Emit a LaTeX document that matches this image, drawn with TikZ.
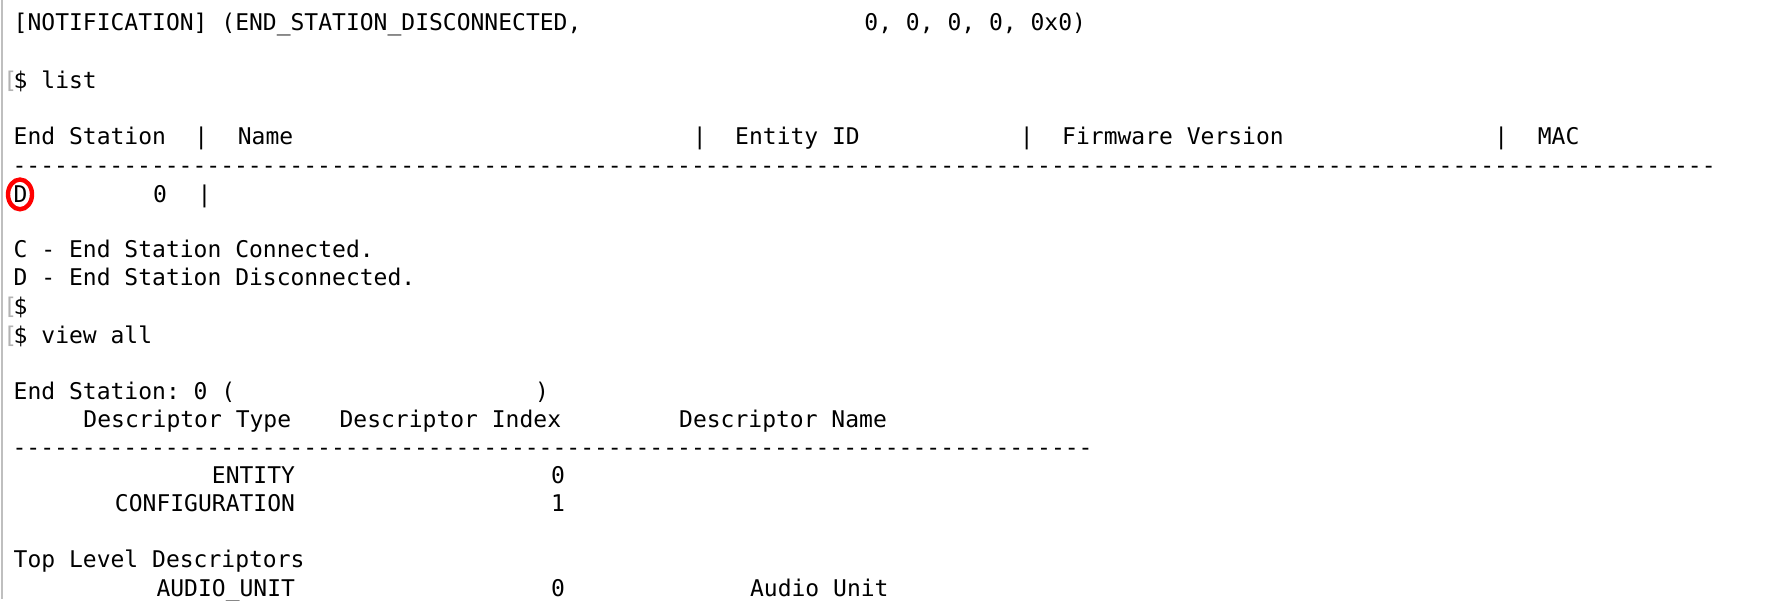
\documentclass[tikz,border=0pt]{standalone}
\usepackage{fontspec}
\setmonofont{DejaVu Sans Mono}
\begin{document}
\begin{tikzpicture}[x=0.5717pt,y=-0.5717pt,
  t/.style={inner sep=0pt,outer sep=0pt,anchor=base west,font=\ttfamily\fontsize{11.5}{14}\selectfont},
  tc/.style={t,anchor=base},
  tr/.style={t,anchor=base east},
  br/.style={t,text=gray!60}]
\useasboundingbox[fill=white] (0,0) rectangle (1548,524.76);
\draw[gray!50,line width=1.1pt] (2,0) -- (2,524);
\node[t] (top) at (12,-4) {\$};
\node[t] (n1) at (12,27) {[NOTIFICATION] (END\_STATION\_DISCONNECTED,};
\node[t] (n2) at (756,27) {0, 0, 0, 0, 0x0)};
\node[br] (b1) at (3,77) {[};
\node[t] (l1) at (12,77) {\$ list};
\node[t] (h1) at (12,126) {End Station};
\node[tc] (h2) at (176,126) {|};
\node[t] (h3) at (208,126) {Name};
\node[tc] (h4) at (612,126) {|};
\node[t] (h5) at (643,126) {Entity ID};
\node[tc] (h6) at (898,126) {|};
\node[t] (h7) at (929,126) {Firmware Version};
\node[tc] (h8) at (1313,126) {|};
\node[t] (h9) at (1345,126) {MAC};
\node[t] (d1) at (11,152) {\foreach \i in {1,...,123}{-}};
\node[t] (r1) at (12,177) {D};
\node[tc] (r2) at (140,177) {0};
\node[tc] (r3) at (179,177) {|};
\draw[red,line width=2.2pt] (17.5,170) ellipse (10.5 and 13);
\node[t] (c1) at (12,225) {C - End Station Connected.};
\node[t] (c2) at (12,250) {D - End Station Disconnected.};
\node[br] (b2) at (3,275) {[};
\node[t] (p1) at (12,275) {\$};
\node[br] (b3) at (3,300) {[};
\node[t] (p2) at (12,300) {\$ view all};
\node[t] (e1) at (12,349) {End Station: 0 (};
\node[t] (e2) at (468,349) {)};
\node[t] (g1) at (73,374) {Descriptor Type};
\node[t] (g2) at (297,374) {Descriptor Index};
\node[t] (g3) at (594,374) {Descriptor Name};
\node[t] (d2) at (11,398) {\foreach \i in {1,...,78}{-}};
\node[tr] (k1) at (258,423) {ENTITY};
\node[tc] (k2) at (488,423) {0};
\node[tr] (k3) at (258,447) {CONFIGURATION};
\node[tc] (k4) at (488,447) {1};
\node[t] (k5) at (12,496) {Top Level Descriptors};
\node[tr] (k6) at (258,522) {AUDIO\_UNIT};
\node[tc] (k7) at (488,522) {0};
\node[t] (k8) at (656,522) {Audio Unit};
\end{tikzpicture}
\end{document}
